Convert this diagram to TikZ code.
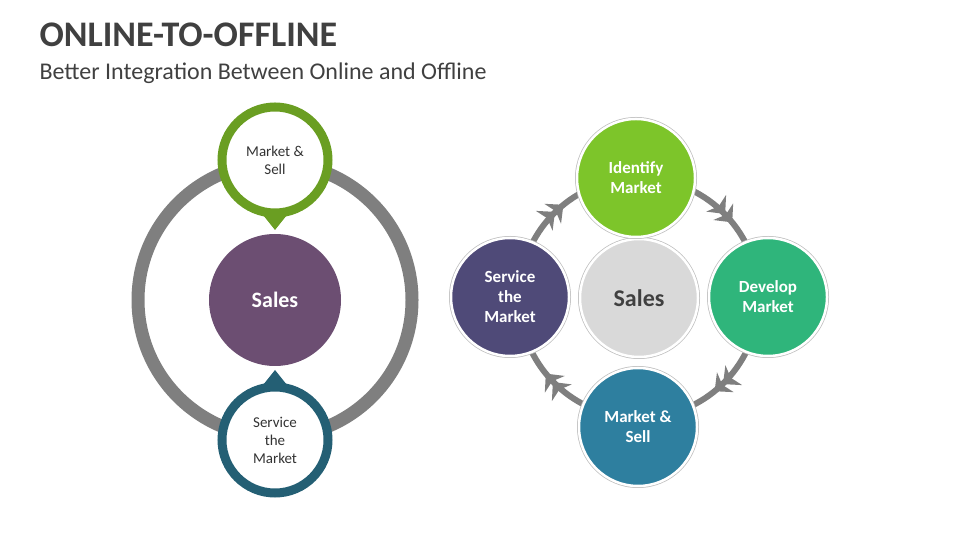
\documentclass[tikz,border=0pt]{standalone}
\usepackage{fontspec}
\setmainfont{Carlito}
\definecolor{ring}{HTML}{7F7F7F}
\definecolor{lgreen}{HTML}{6A9E22}
\definecolor{lteal}{HTML}{245F74}
\definecolor{lpurple}{HTML}{6C4E72}
\definecolor{cgreen}{HTML}{7DC52A}
\definecolor{cteal}{HTML}{2FB57B}
\definecolor{cblue}{HTML}{2E7F9F}
\definecolor{cpurple}{HTML}{4F4A78}
\definecolor{cgray}{HTML}{D9D9D9}
\tikzset{
 ringnode/.style={circle,fill=white,line width=9pt,minimum size=106pt,inner sep=0pt,align=center,font=\fontsize{15}{18}\selectfont,text=black!80},
 ballnode/.style={circle,draw=white,line width=2.5pt,minimum size=118pt,inner sep=0pt,align=center,text=white,font=\bfseries\fontsize{17}{20}\selectfont,
   preaction={draw=black!25,line width=4pt}},
 flow/.style={ring,line width=6pt}
}
\newcommand\chev[1]{%
 \begin{scope}[shift={([shift={(#1:120)}]rc)},rotate=#1-90]
 \fill[ring] (2,0) -- (-12,13) -- (-8,0) -- (-12,-13) -- cycle;
 \fill[ring] (-9,0) -- (-23,13) -- (-19,0) -- (-23,-13) -- cycle;
 \end{scope}}
\begin{document}
\begin{tikzpicture}[x=1pt,y=1pt]
\useasboundingbox (0,0) rectangle (960,540);
\node[anchor=west,font=\bfseries\fontsize{36}{40}\selectfont,text=black!75] (title) at (36,505) {ONLINE-TO-OFFLINE};
\node[anchor=west,font=\fontsize{24}{28}\selectfont,text=black!75] (sub) at (36,467) {Better Integration Between Online and Offline};
% left
\coordinate (lc) at (275,240);
\draw[ring,line width=13pt] (lc) circle (137);
\node[circle,fill=lpurple,minimum size=132pt,text=white,font=\bfseries\fontsize{22}{26}\selectfont] (lsales) at (lc) {Sales};
\fill[lgreen] (263,325) -- (287,325) -- (275,310) -- cycle;
\fill[lteal] (263,155) -- (287,155) -- (275,170) -- cycle;
\node[ringnode,draw=lgreen] (ltop) at (275,380) {Market \&\\Sell};
\node[ringnode,draw=lteal] (lbot) at (275,100) {Service\\the\\Market};
% right
\coordinate (rc) at (639,242);
\draw[flow] ([shift={(64:120)}]rc) arc (64:26:120);
\draw[flow] ([shift={(-26:120)}]rc) arc (-26:-64:120);
\draw[flow] ([shift={(-116:120)}]rc) arc (-116:-154:120);
\draw[flow] ([shift={(154:120)}]rc) arc (154:116:120);
\chev{40}
\chev{-50}
\chev{-140}
\chev{130}
\node[ballnode,fill=cgray,text=black!75,font=\bfseries\fontsize{24}{28}\selectfont] (rsales) at (rc) {Sales};
\node[ballnode,fill=cgreen] (ident) at (636,362) {Identify\\Market};
\node[ballnode,fill=cteal] (dev) at (768,243) {Develop\\Market};
\node[ballnode,fill=cblue] (msell) at (638,113) {Market \&\\Sell};
\node[ballnode,fill=cpurple] (serv) at (510,243) {Service\\the\\Market};
\end{tikzpicture}
\end{document}
